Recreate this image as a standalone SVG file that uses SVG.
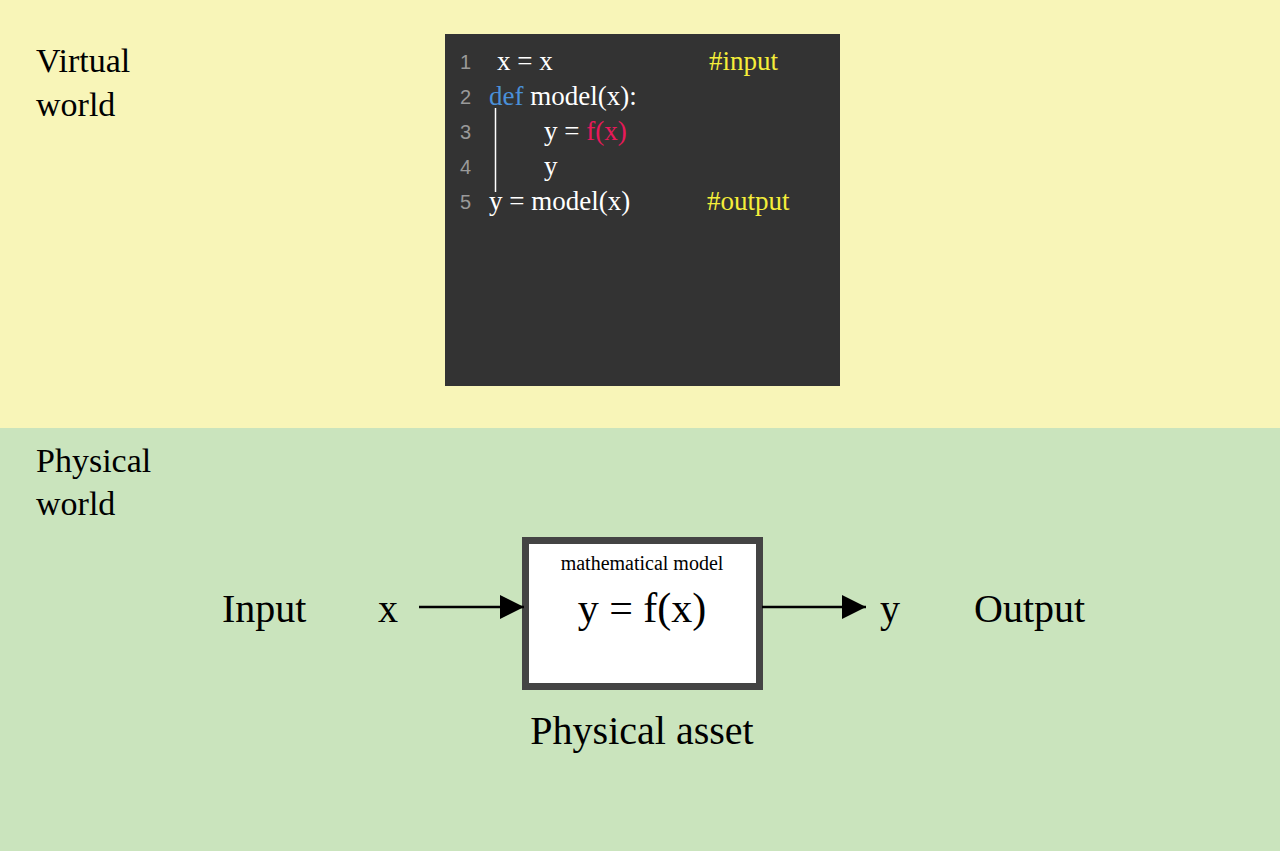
<svg xmlns="http://www.w3.org/2000/svg" width="1280" height="851" viewBox="0 0 1280 851">
<defs>
<style>
.s{font-family:"Liberation Serif","DejaVu Serif",serif;fill:#000}
.c{font-family:"Liberation Serif","DejaVu Serif",serif;font-size:27px;fill:#fff}
.n{font-family:"Liberation Sans",Arial,sans-serif;font-size:20px;fill:#9a9a9a}
.y{fill:#f5ee3a}
</style>
<marker id="ah" viewBox="0 0 10 10" refX="10" refY="5" markerWidth="24" markerHeight="24" markerUnits="userSpaceOnUse" orient="auto"><path d="M0,0L10,5L0,10z" fill="#000"/></marker>
</defs>
<rect x="0" y="0" width="1280" height="428" fill="#f8f5b8"/>
<rect x="0" y="428" width="1280" height="423" fill="#cae4bd"/>
<g id="labels">
<text class="s" x="36" y="72" font-size="34">Virtual</text>
<text class="s" x="36" y="116" font-size="34">world</text>
<text class="s" x="36" y="472" font-size="34">Physical</text>
<text class="s" x="36" y="515" font-size="34">world</text>
<text class="s" x="222" y="622" font-size="40">Input</text>
<text class="s" x="378" y="622" font-size="40">x</text>
<text class="s" x="880" y="622" font-size="40">y</text>
<text class="s" x="974" y="622" font-size="40">Output</text>
<text class="s" x="642" y="744" font-size="40" text-anchor="middle">Physical asset</text>
</g>
<g id="code">
<rect x="445" y="34" width="395" height="352" fill="#333"/>
<text class="n" x="460" y="69">1</text>
<text class="n" x="460" y="104">2</text>
<text class="n" x="460" y="139">3</text>
<text class="n" x="460" y="174">4</text>
<text class="n" x="460" y="209">5</text>
<text class="c" x="497" y="70">x = x</text>
<text class="c y" x="709" y="70">#input</text>
<text class="c" x="489" y="105"><tspan fill="#4a90d9">def</tspan> model(x):</text>
<text class="c" x="544" y="140">y = <tspan fill="#e8195a">f(x)</tspan></text>
<text class="c" x="544" y="175">y</text>
<text class="c" x="489" y="210">y = model(x)</text>
<text class="c y" x="707" y="210">#output</text>
<line x1="495.5" y1="108" x2="495.5" y2="192" stroke="#fff" stroke-width="1.5"/>
</g>
<g id="model">
<rect x="525.5" y="540.5" width="234" height="146" fill="#fff" stroke="#444" stroke-width="7"/>
<text class="s" x="642" y="570" font-size="20" text-anchor="middle">mathematical model</text>
<text class="s" x="642" y="622" font-size="42" text-anchor="middle">y = f(x)</text>
</g>
<g id="connectors">
<line x1="419" y1="607" x2="524" y2="607" stroke="#000" stroke-width="2.5" marker-end="url(#ah)"/>
<line x1="762" y1="607" x2="866" y2="607" stroke="#000" stroke-width="2.5" marker-end="url(#ah)"/>
</g>
</svg>
